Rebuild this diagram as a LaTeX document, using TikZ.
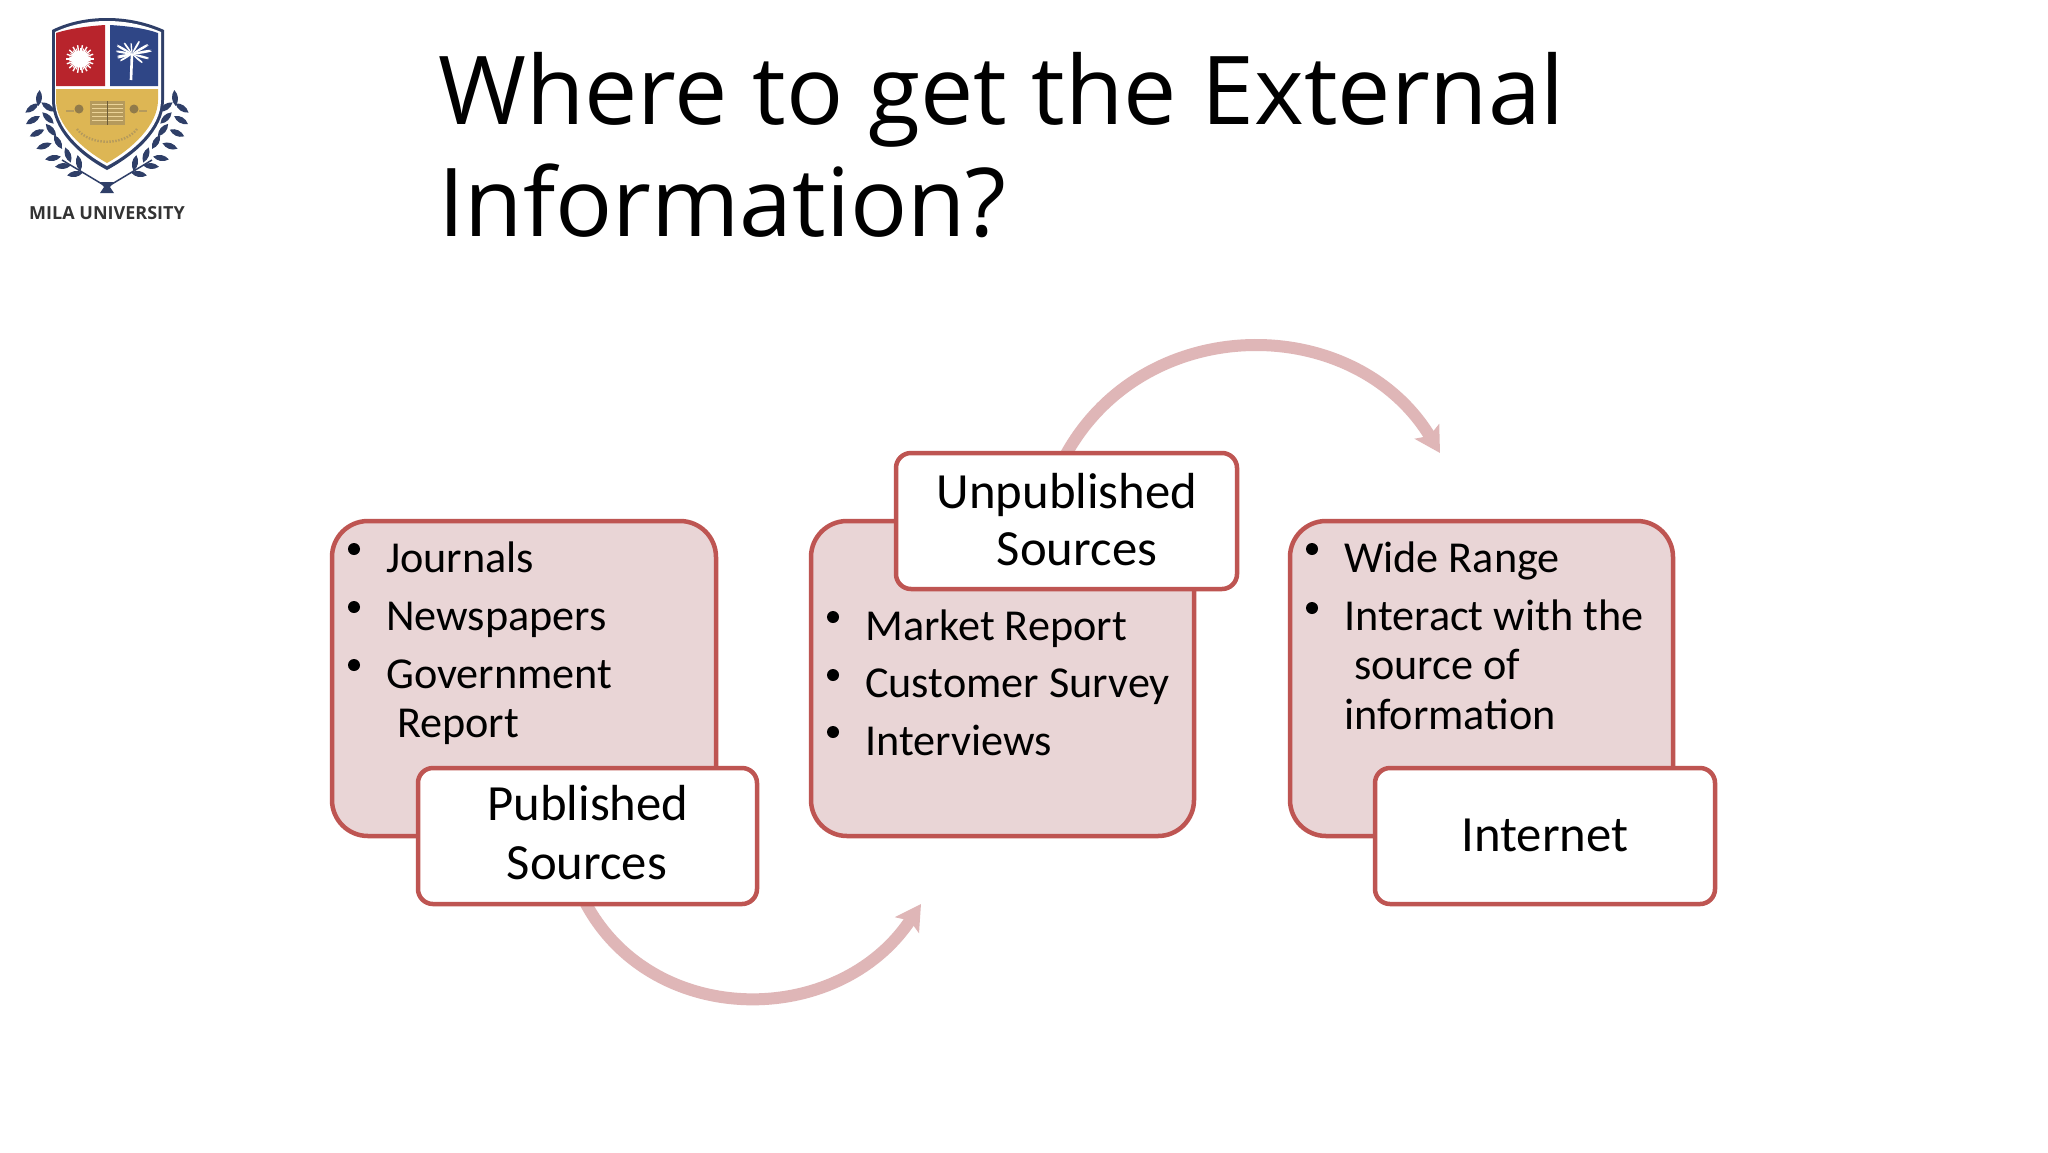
\documentclass[tikz,border=0pt]{standalone}
\usepackage{fontspec}
\setmainfont{Carlito}
\newfontfamily\titlefont{Open Sans}
\usetikzlibrary{arrows.meta}
\definecolor{boxfill}{HTML}{E9D5D6}
\definecolor{boxline}{HTML}{BE5552}
\definecolor{arrowc}{HTML}{DFB6B7}
\definecolor{navy}{HTML}{2F3F68}
\definecolor{shieldred}{HTML}{B8242C}
\definecolor{shieldblue}{HTML}{2F4686}
\definecolor{shieldgold}{HTML}{DDB654}
\definecolor{booktan}{HTML}{B59A5C}
\tikzset{
  panel/.style={draw=boxline,fill=boxfill,line width=4.5pt,rounded corners=36pt,inner sep=0pt,outer sep=0pt},
  tag/.style={draw=boxline,fill=white,line width=4.5pt,rounded corners=15pt,inner sep=0pt,outer sep=0pt},
  flow/.style={draw=arrowc,line width=12pt,-{Stealth[length=25pt,width=28pt,inset=5pt]}},
  item/.style={anchor=base west,inner sep=0pt,font=\fontsize{44.2}{52}\selectfont},
  tagtext/.style={anchor=base,inner sep=0pt,font=\fontsize{50.7}{60}\selectfont},
  heading/.style={anchor=base west,inner sep=0pt,font=\titlefont\fontsize{95}{112}\selectfont},
  dot/.style={circle,fill=black,inner sep=0pt,minimum size=12pt}
}
\begin{document}
\begin{tikzpicture}[x=1pt,y=-1pt]
\useasboundingbox (0,0) rectangle (2048,1152);
\fill[white] (0,0) rectangle (2048,1152);

% logo
\foreach \x/\y/\r in {39/98/85,32/108/35,48/107/-35,33/120/30,48/118/-45,37/133/25,51/130/-50,44/146/20,58/142/-60,53/158/10,68/155/-70,63/166/5,79/163/-80,75/174/10}{
  \fill[navy,rotate around={\r:(\x,\y)}] (\x-8,\y) .. controls (\x-3,\y-4) and (\x+3,\y-4) .. (\x+8,\y) .. controls (\x+3,\y+4) and (\x-3,\y+4) .. (\x-8,\y) -- cycle;
  \fill[navy,rotate around={-\r:(214-\x,\y)}] (214-\x-8,\y) .. controls (214-\x-3,\y-4) and (214-\x+3,\y-4) .. (214-\x+8,\y) .. controls (214-\x+3,\y+4) and (214-\x-3,\y+4) .. (214-\x-8,\y) -- cycle;
}
\draw[navy,line width=1.5pt] (62,160) -- (107,187) -- (152,160);
\fill[navy] (100,182) -- (114,182) -- (110,187) -- (114,193) -- (100,193) -- (104,187) -- cycle;
\fill[navy] (52,30) .. controls (70,21) and (90,18) .. (107,18) .. controls (124,18) and (144,21) .. (164,30) -- (164,100) .. controls (164,130) and (135,155) .. (107,170) .. controls (79,155) and (52,130) .. (52,100) -- cycle;
\fill[white] (55,32) .. controls (72,24) and (90,21) .. (107,21) .. controls (124,21) and (142,24) .. (161,32) -- (161,100) .. controls (161,128) and (133,152) .. (107,166) .. controls (81,152) and (55,128) .. (55,100) -- cycle;
\fill[shieldred] (56,33) .. controls (72,28) and (90,26) .. (105,25) -- (105,86) -- (56,86) -- cycle;
\fill[shieldblue] (110,25) .. controls (126,26) and (144,28) .. (158,33) -- (158,86) -- (110,86) -- cycle;
\fill[shieldgold] (56,89) -- (158,89) -- (158,100) .. controls (158,125) and (132,149) .. (107,163) .. controls (82,149) and (56,125) .. (56,100) -- cycle;
% sun
\foreach \a in {0,20,...,340}{\draw[white,line width=1.4pt] (80,59) -- ++(\a:14);}
\foreach \a in {10,30,...,350}{\draw[white,line width=1pt] (80,59) -- ++(\a:11);}
\fill[white] (80,59) circle (8.5);
% palm
\draw[white,line width=2.6pt] (132,54) -- (131,80);
\foreach \a/\l in {-170/13,-150/14,-125/11,-95/9,-60/12,-30/15,-10/16,15/14,40/11,150/11,170/12,-195/12}{
  \fill[white] (132,54) .. controls +(\a+18:{\l*0.5}) and +(\a+4:{\l*0.8}) .. +(\a:\l) .. controls +(\a-4:{\l*0.8}) and +(\a-18:{\l*0.5}) .. (132,54) -- cycle;
}
% book and emblems
\fill[booktan] (90,101) rectangle (125,125);
\foreach \y in {104,108,...,123}{\draw[shieldgold!60!white,line width=.9pt] (92,\y) -- (123,\y);}
\draw[booktan!60!black,line width=.8pt] (107.5,101) -- (107.5,125);
\fill[booktan!80!black] (79,109) circle (4.5);
\fill[booktan!80!black] (134,109) circle (4.5);
\draw[booktan,line width=1.5pt] (66,111) -- (74,111) (139,111) -- (147,111);
\draw[booktan,line width=2.4pt,dash pattern=on 1.5pt off 1.5pt] (77,129) .. controls (90,146) and (124,146) .. (137,129);
\node[anchor=base,inner sep=0pt,text=black!80,font=\titlefont\bfseries\fontsize{18}{22}\selectfont] (logotext) at (107,219) {MILA UNIVERSITY};

% title
\node[heading] (title1) at (438,124) {Where to get the External};
\node[heading] (title2) at (438,236) {Information?};

% panels
\node[panel,anchor=north west,minimum width=384pt,minimum height=315pt] (panelA) at (332,521) {};
\node[panel,anchor=north west,minimum width=383pt,minimum height=315pt] (panelB) at (811,521) {};
\node[panel,anchor=north west,minimum width=383pt,minimum height=315pt] (panelC) at (1290,521) {};

% connector ends
\coordinate (endA) at (921,904);
\coordinate (endB) at (1440,453);
\coordinate (startA) at (584,900);
\coordinate (startB) at (1064,458);
\draw[flow] (startA) .. controls (650,1029) and (838,1029) .. (endA);
\draw[flow] (startB) .. controls (1142,311) and (1354,311) .. (endB);

% tags
\node[tag,anchor=north west,minimum width=339pt,minimum height=136pt] (tagA) at (418,768) {};
\node[tag,anchor=north west,minimum width=341pt,minimum height=136pt] (tagB) at (896,453) {};
\node[tag,anchor=north west,minimum width=340pt,minimum height=136pt] (tagC) at (1375,768) {};

% panel A text
\node[dot] (dA1) at (354,549) {};
\node[dot] (dA2) at (354,607) {};
\node[dot] (dA3) at (354,665) {};
\node[item] (tA1) at (386,572) {Journals};
\node[item] (tA2) at (386,630) {Newspapers};
\node[item] (tA3) at (386,688) {Government};
\node[item] (tA4) at (397,737) {Report};
% panel B text
\node[dot] (dB1) at (833,617) {};
\node[dot] (dB2) at (833,675) {};
\node[dot] (dB3) at (833,732) {};
\node[item] (tB1) at (865,640) {Market Report};
\node[item] (tB2) at (865,697) {Customer Survey};
\node[item] (tB3) at (865,755) {Interviews};
% panel C text
\node[dot] (dC1) at (1312,549) {};
\node[dot] (dC2) at (1312,608) {};
\node[item] (tC1) at (1344,572) {Wide Range};
\node[item] (tC2) at (1344,630) {Interact with the};
\node[item] (tC3) at (1354,679) {source of};
\node[item] (tC4) at (1344,729) {information};

% tag text
\node[tagtext] (lA1) at (588,820) {Published};
\node[tagtext] (lA2) at (587,879) {Sources};
\node[tagtext] (lB1) at (1067,508) {Unpublished};
\node[tagtext] (lB2) at (1077,565) {Sources};
\node[tagtext] (lC1) at (1545,851) {Internet};
\end{tikzpicture}
\end{document}
